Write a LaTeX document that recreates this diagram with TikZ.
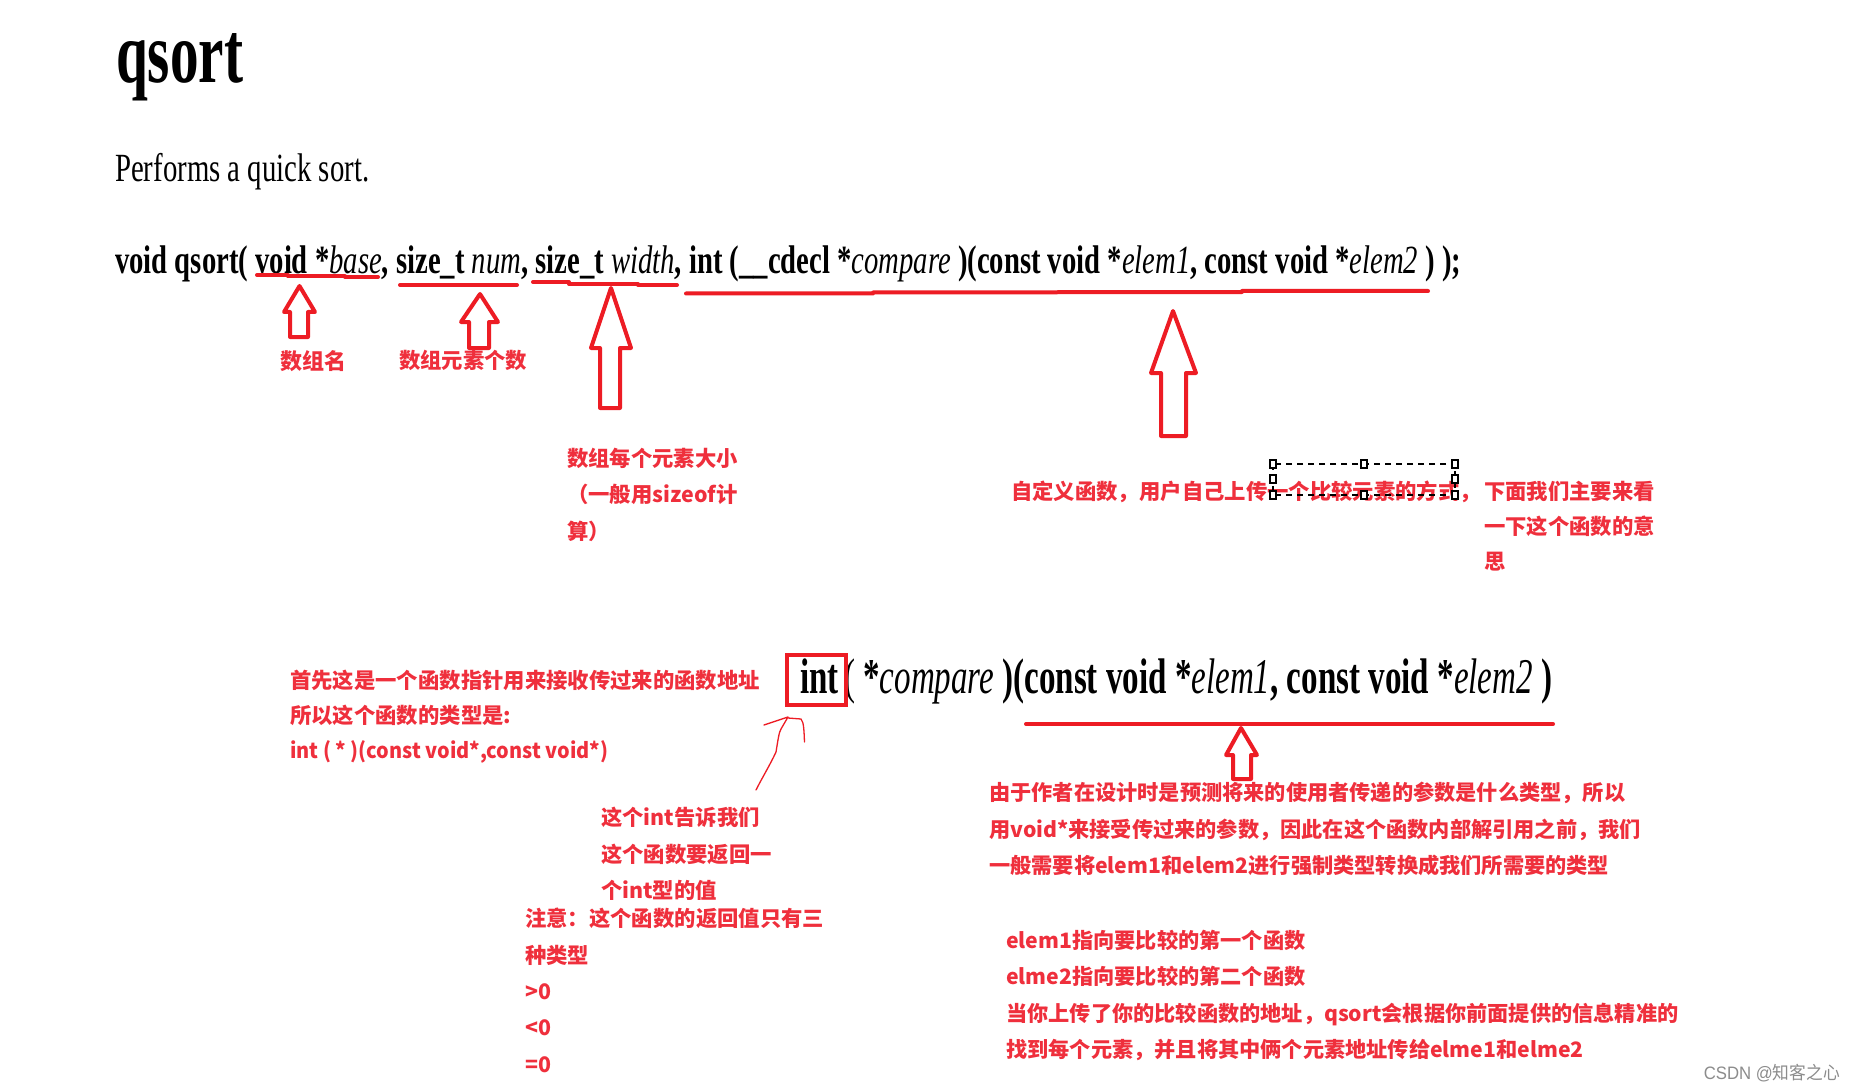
\documentclass[tikz,border=0pt]{standalone}
\usepackage{fontspec}
\usepackage{graphicx}
\setmainfont{Liberation Serif}
\newfontfamily\cjk{Noto Sans CJK SC}
\newfontfamily\marksans{Liberation Sans}
\definecolor{penred}{HTML}{ED1C24}
\definecolor{notered}{HTML}{EF2F3C}
\newcommand{\cb}[1]{\textbf{#1}}
\newcommand{\ci}[1]{\textit{#1}}
\tikzset{
  x=1pt,y=-1pt,
  note/.style={anchor=north west,inner sep=0pt,align=left,text=notered,font=\cjk\bfseries\fontsize{21.35}{36.4}\selectfont},
  tightnote/.style={note,font=\cjk\bfseries\fontsize{21.35}{35}\selectfont},
  widenote/.style={note,font=\cjk\bfseries\fontsize{21.2}{36.4}\selectfont},
  doc/.style={anchor=base west,inner sep=0pt,text=black},
  uline/.style={draw=penred,line width=4pt,line cap=round},
  blockarrow/.style={draw=penred,line width=4pt,line join=round,fill=white},
  handle/.style={draw=black,line width=1.2pt,fill=white,minimum width=6pt,minimum height=8pt,inner sep=0pt}
}
\begin{document}
\begin{tikzpicture}
\useasboundingbox[fill=white] (0,0) rectangle (1855,1091);

% document text
\node[doc] (title) at (116,83) {\resizebox{127pt}{\height}{\fontsize{87}{90}\selectfont\bfseries qsort}};
\node[doc] (desc) at (115,182) {\resizebox{254pt}{\height}{\fontsize{40}{44}\selectfont Performs a quick sort.}};
\node[doc] (proto) at (115,274) {\resizebox{1346pt}{\height}{\fontsize{40}{44}\selectfont \cb{void qsort( void *}\ci{base}\cb{, size\_t }\ci{num}\cb{, size\_t }\ci{width}\cb{, int (\_\_cdecl *}\ci{compare}\cb{ )(const void *}\ci{elem1}\cb{, const void *}\ci{elem2}\cb{ ) );}}};
\node[doc] (cmp) at (800,693) {\resizebox{752pt}{\height}{\fontsize{50}{54}\selectfont \cb{int}\hspace{0.16em}( \cb{*}\ci{compare}\cb{ )(const void *}\ci{elem1}\cb{, const void *}\ci{elem2}\cb{ )}}};

% underlines
\draw[uline] (257,275) -- (288,275) (288,276.5) -- (345,276.5) (345,277) -- (378,277);
\draw[uline] (400,285) -- (517,285);
\draw[uline] (533,282) -- (569,282) (569,284) -- (638,284) (638,285) -- (677,285);
\draw[uline] (686,293.5) -- (873,293.5) (873,292.5) -- (1242,292) (1242,291) -- (1428,291);
\draw[uline] (1026,724) -- (1553,724);

% block arrows
\draw[blockarrow] (299.5,286) -- (315,312) -- (308,312) -- (308,337) -- (290,337) -- (290,312) -- (284,312) -- cycle;
\draw[blockarrow] (480,294) -- (498,322) -- (489,322) -- (489,348) -- (469,348) -- (469,322) -- (461,322) -- cycle;
\draw[blockarrow] (611,288) -- (631,348) -- (620,348) -- (620,408) -- (600,408) -- (600,348) -- (591,348) -- cycle;
\draw[blockarrow] (1173,311) -- (1196,373) -- (1186,373) -- (1186,436) -- (1161,436) -- (1161,373) -- (1151,373) -- cycle;
\draw[blockarrow] (1241,728) -- (1257,755) -- (1251,755) -- (1251,779) -- (1233,779) -- (1233,755) -- (1226,755) -- cycle;

% box round int
\draw[draw=penred,line width=4.5pt] (787,655) rectangle (846,705);

% hand-drawn arrow
\draw[penred,line width=1.3pt,line join=round,line cap=round] (756,790) .. controls (762,778) and (770,765) .. (776,752) .. controls (778,740) and (779,732) .. (781,729) -- (788,717) -- (764,725) (788,718) -- (801,719) .. controls (804,722) and (804,732) .. (804.5,742);

% notes
\node[note,font=\cjk\bfseries\fontsize{22}{36}\selectfont] (n1) at (280,350) {数组名};
\node[note] (n2) at (399,350) {数组元素个数};
\node[note] (n3) at (567,448) {数组每个元素大小\\（一般用sizeof计\\算）};
\node[note] (n4) at (1011,481) {自定义函数，用户自己上传一个比较元素的方式，};
\node[tightnote] (n5) at (1484,481) {下面我们主要来看\\一下这个函数的意\\思};
\node[tightnote] (n6) at (290,670) {首先这是一个函数指针用来接收传过来的函数地址\\所以这个函数的类型是:\\\resizebox{318pt}{\height}{int ( * )(const void*,const void*)}};
\node[note] (n7) at (601,807) {这个int告诉我们\\这个函数要返回一\\个int型的值};
\node[note] (n8) at (525,908) {注意：这个函数的返回值只有三\\种类型\\>0\\<0\\=0};
\node[widenote] (n9) at (989,782) {由于作者在设计时是预测将来的使用者传递的参数是什么类型，所以\\用void*来接受传过来的参数，因此在这个函数内部解引用之前，我们\\一般需要将elem1和elem2进行强制类型转换成我们所需要的类型};
\node[widenote] (n10) at (1006,930) {elem1指向要比较的第一个函数\\elme2指向要比较的第二个函数\\当你上传了你的比较函数的地址，qsort会根据你前面提供的信息精准的\\找到每个元素，并且将其中俩个元素地址传给elme1和elme2};

% selection frame
\draw[black,line width=1.2pt,dash pattern=on 6pt off 5pt] (1273,464) rectangle (1455,495);
\foreach \hx/\hy/\hn in {1273/464/a,1364/464/b,1455/464/c,1273/479/d,1455/479/e,1273/495/f,1364/495/g,1455/495/h}
  \node[handle] (sel\hn) at (\hx,\hy) {};

% watermark
\node[anchor=base east,inner sep=0pt,text=black!45] (mark) at (1840,1079) {\resizebox{136pt}{\height}{\fontsize{18}{20}\selectfont\marksans CSDN @\cjk 知客之心}};
\end{tikzpicture}
\end{document}
